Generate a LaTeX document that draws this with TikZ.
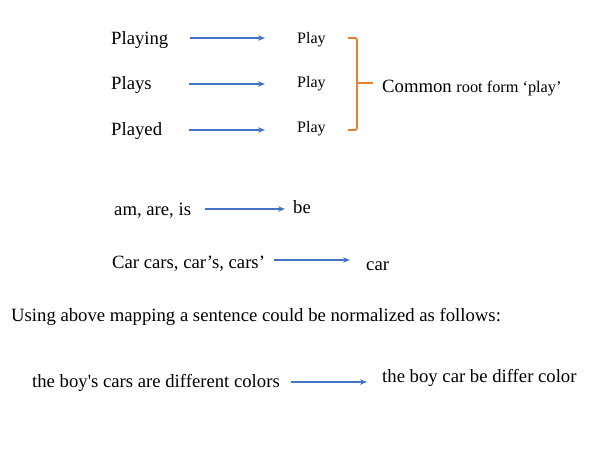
\documentclass[tikz,border=0pt]{standalone}
\usepackage{fontspec}
\setmainfont{Liberation Serif}
\usetikzlibrary{arrows.meta}
\definecolor{arrowblue}{RGB}{68,114,196}
\definecolor{braceorange}{RGB}{237,125,49}
\tikzset{
  word/.style={anchor=base west, inner sep=0pt, font=\fontsize{18.7}{22}\selectfont},
  rootword/.style={word, font=\fontsize{16}{19}\selectfont},
  maparrow/.style={-{Stealth[length=7pt,width=5.5pt]}, arrowblue, line width=1.8pt},
  bracket/.style={braceorange, line width=1.8pt}
}
\begin{document}
\begin{tikzpicture}[x=1pt,y=-1pt]
\useasboundingbox (0,0) rectangle (600,450);
% word forms and their roots
\node[word] (playing) at (111,44) {Playing};
\node[word] (plays) at (111,89) {Plays};
\node[word] (played) at (111,135) {Played};
\node[rootword] (play1) at (297,43) {Play};
\node[rootword] (play2) at (297,87) {Play};
\node[rootword] (play3) at (297,132) {Play};
\node[word] (common) at (382,92) {Common {\fontsize{16.3}{19}\selectfont root form ‘play’}};
\draw[maparrow, shorten <=21pt, shorten >=32pt] ([yshift=6pt]playing.base east) -- ([yshift=6pt]playing.base east -| play1.west);
\draw[maparrow, shorten <=37.5pt, shorten >=32pt] ([yshift=5pt]plays.base east) -- ([yshift=5pt]plays.base east -| play2.west);
\draw[maparrow, shorten <=27pt, shorten >=32pt] ([yshift=5pt]played.base east) -- ([yshift=5pt]played.base east -| play3.west);
% bracket
\draw[bracket, rounded corners=2pt] (348,38) -- (357,38) -- (357,130) -- (348,130);
\coordinate (bracemid) at (357,83);
\draw[bracket, shorten >=9pt] (bracemid) -- (bracemid -| common.west);
% more mappings
\node[word] (amareis) at (114,215.7) {am, are, is};
\node[word] (be) at (293,213) {be};
\draw[maparrow, shorten <=14pt, shorten >=8pt] ([yshift=6.7pt]amareis.base east) -- ([yshift=6.7pt]amareis.base east -| be.west);
\node[word] (cars) at (112,268) {Car cars, car’s, cars’};
\node[word] (car) at (366,270) {car};
\draw[maparrow, shorten <=9pt, shorten >=16pt] ([yshift=8pt]cars.base east) -- ([yshift=8pt]cars.base east -| car.west);
\node[word] (using) at (11,321.7) {Using above mapping a sentence could be normalized as follows:};
\node[word] (sentence) at (32,387.7) {the boy\textquotesingle s cars are different colors};
\node[word] (normal) at (382,382) {the boy car be differ color};
\draw[maparrow, shorten <=11pt, shorten >=15pt] ([yshift=5.7pt]sentence.base east) -- ([yshift=5.7pt]sentence.base east -| normal.west);
\end{tikzpicture}
\end{document}
